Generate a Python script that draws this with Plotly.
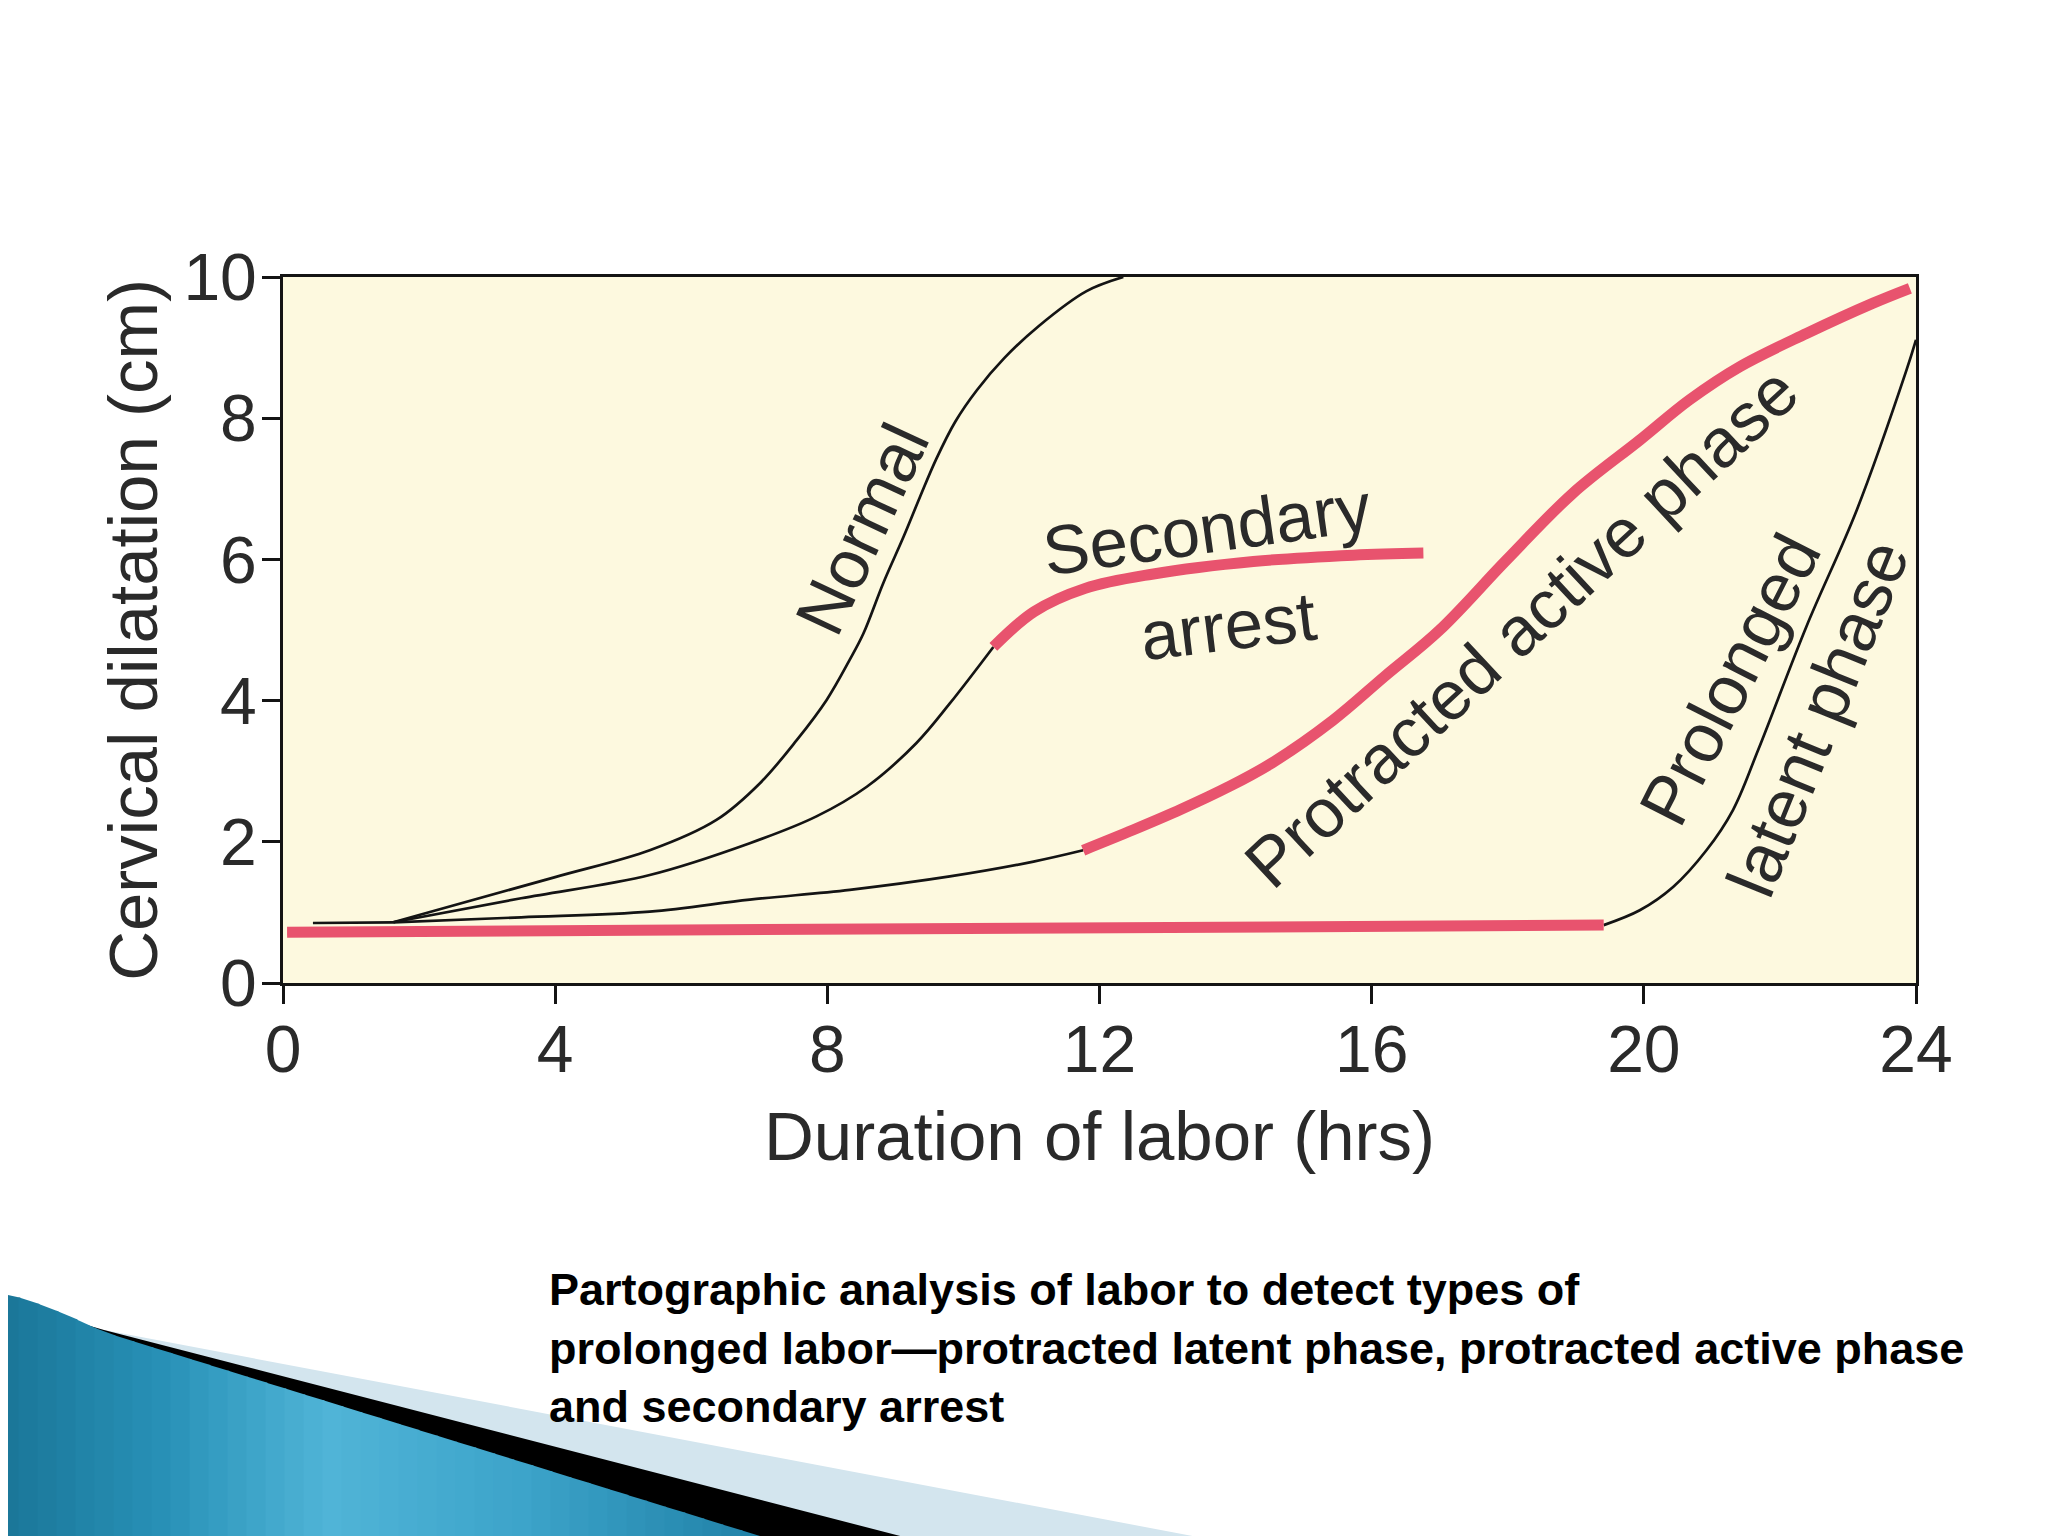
import plotly.graph_objects as go

# ---------------- data (hours, cm) ----------------
start_x = [0.44, 1.62]
start_y = [0.85, 0.86]

normal_x = [1.62, 4.0, 5.39, 6.37, 7.01, 7.55, 7.99, 8.33, 8.53, 8.82, 9.12, 9.36, 9.6, 9.88, 10.2, 10.6, 11.1, 11.81, 12.35]
normal_y = [0.86, 1.5, 1.88, 2.31, 2.83, 3.44, 4.01, 4.58, 4.95, 5.66, 6.32, 6.88, 7.42, 7.95, 8.4, 8.85, 9.3, 9.8, 10.0]

arrest_black_x = [1.62, 3.5, 5.39, 6.86, 7.84, 8.58, 9.31, 9.80, 10.44]
arrest_black_y = [0.86, 1.2, 1.53, 1.98, 2.36, 2.78, 3.40, 3.96, 4.76]
arrest_red_x = [10.44, 11.04, 11.79, 12.77, 14.26, 15.73, 16.76]
arrest_red_y = [4.76, 5.26, 5.59, 5.79, 5.97, 6.06, 6.09]

active_black_x = [1.62, 3.5, 5.39, 6.86, 8.33, 9.80, 11.03, 11.76]
active_black_y = [0.86, 0.93, 1.01, 1.18, 1.32, 1.51, 1.72, 1.88]
active_red_x = [11.76, 12.5, 13.2, 13.9, 14.54, 15.43, 16.2, 17.0, 17.98, 18.96, 19.94, 20.67, 21.41, 22.39, 23.37, 23.91]
active_red_y = [1.88, 2.17, 2.46, 2.78, 3.12, 3.72, 4.35, 5.0, 5.99, 6.94, 7.69, 8.26, 8.73, 9.20, 9.63, 9.84]

latent_red_x = [0.06, 19.41]
latent_red_y = [0.72, 0.82]
latent_black_x = [19.41, 19.94, 20.43, 20.92, 21.31, 21.68, 22.39, 23.13, 23.86, 24.0]
latent_black_y = [0.82, 1.03, 1.36, 1.88, 2.45, 3.3, 5.05, 6.70, 8.68, 9.11]

x_ticks = [0, 4, 8, 12, 16, 20, 24]
y_ticks = [0, 2, 4, 6, 8, 10]

labels = ["Normal", "Secondary", "arrest", "Protracted active phase", "Prolonged", "latent phase"]
label_x = [8.51, 13.58, 13.89, 18.2, 21.27, 22.56]
label_y = [6.43, 6.42, 5.05, 5.04, 4.3, 3.75]
label_angle = [-65, -8, -7, -43, -63, -68]

caption = ("Partographic analysis of labor to detect types of<br>"
           "prolonged labor\u2014protracted latent phase, protracted active phase<br>"
           "and secondary arrest")

# ---------------- styles ----------------
RED = "#E8536E"
BLACK = "#141414"
BG = "#FDF9DF"
TXT = "#2a2a2a"
FONT = "Liberation Sans, Arial, Helvetica, sans-serif"

W, H = 2048, 1536
OFF = 8  # page body margin
L, R, T, B = 275, 140, 269, 561
PW, PH = W - L - R, H - T - B


def px2paper(sx, sy):
    fx, fy = sx - OFF, sy - OFF
    return (fx - L) / PW, (H - B - fy) / PH


fig = go.Figure()


def add_line(x, y, color, width):
    fig.add_trace(go.Scatter(x=x, y=y, mode="lines",
                             line=dict(color=color, width=width, shape="spline", smoothing=1.0),
                             hoverinfo="skip", showlegend=False))


add_line(start_x, start_y, BLACK, 2.7)
add_line(normal_x, normal_y, BLACK, 2.7)
add_line(arrest_black_x, arrest_black_y, BLACK, 2.7)
add_line(active_black_x, active_black_y, BLACK, 2.7)
add_line(latent_black_x, latent_black_y, BLACK, 2.7)
add_line(arrest_red_x, arrest_red_y, RED, 11)
add_line(active_red_x, active_red_y, RED, 11)
add_line(latent_red_x, latent_red_y, RED, 11)

for t, x, y, a in zip(labels, label_x, label_y, label_angle):
    fig.add_annotation(x=x, y=y, text=t, textangle=a, showarrow=False,
                       xanchor="center", yanchor="middle",
                       font=dict(family=FONT, size=69, color=TXT))

# caption
cx, cy = px2paper(547, 1262)
fig.add_annotation(xref="paper", yref="paper", x=cx, y=cy, text=caption,
                   showarrow=False, xanchor="left", yanchor="top", align="left",
                   font=dict(family="Liberation Sans, Arial", size=45,
                             color="#000000", weight="bold"))


# decorative corner shapes (slide background), screen pixel coords
def poly(points, color, opacity=1.0):
    pts = [px2paper(x, y) for x, y in points]
    path = "M " + " L ".join(f"{x:.5f},{y:.5f}" for x, y in pts) + " Z"
    fig.add_shape(type="path", xref="paper", yref="paper", path=path,
                  fillcolor=color, line=dict(width=0), layer="below", opacity=opacity)


poly([(0, 1300), (104, 1330), (1240, 1545), (0, 1545)], "#D3E5EE")
poly([(0, 1300), (104, 1330), (935, 1545), (0, 1545)], "#000000")


def teal_top(x):
    if x <= 104:
        return 1293 + (1332 - 1293) * (x / 104) ** 1.3
    return 1332 + (1536 - 1332) * (x - 104) / (760 - 104)


def lerp(c1, c2, t):
    a = [int(c1[i:i + 2], 16) for i in (1, 3, 5)]
    b = [int(c2[i:i + 2], 16) for i in (1, 3, 5)]
    return "#" + "".join(f"{round(a[k] + (b[k] - a[k]) * t):02x}" for k in range(3))


stops = [(0, "#1A7597"), (160, "#2790B6"), (330, "#50B4D7"), (520, "#3DA4CA"), (770, "#1F80A6")]
n = 40
XEND = 760
for i in range(n):
    x0 = XEND * i / n
    x1 = XEND * (i + 1) / n + 1.5
    xm = (x0 + x1) / 2
    col = stops[-1][1]
    for j in range(len(stops) - 1):
        if stops[j][0] <= xm <= stops[j + 1][0]:
            t = (xm - stops[j][0]) / (stops[j + 1][0] - stops[j][0])
            col = lerp(stops[j][1], stops[j + 1][1], t)
            break
    x1c = min(x1, XEND)
    pts = [(x0 - 0.5, teal_top(x0)), (x1c, teal_top(x1c))]
    if x1 > XEND:
        pts.append((x1, 1545))
    pts += [(x1, 1545), (x0 - 0.5, 1545)]
    poly(pts, col)

axis_common = dict(showgrid=False, zeroline=False, showline=True, mirror=True,
                   linecolor=BLACK, linewidth=3, ticks="outside", ticklen=18,
                   tickwidth=2.5, tickcolor=BLACK,
                   tickfont=dict(family=FONT, size=66, color=TXT))

fig.update_layout(
    width=W, height=H,
    margin=dict(l=L, r=R, t=T, b=B),
    paper_bgcolor="white",
    plot_bgcolor=BG,
    xaxis=dict(range=[0, 24], tickvals=x_ticks, ticklabelstandoff=-11, **axis_common,
               title=dict(text="Duration of labor (hrs)", standoff=27,
                          font=dict(family=FONT, size=69, color=TXT))),
    yaxis=dict(range=[0, 10], tickvals=y_ticks, ticklabelstandoff=-8, **axis_common,
               title=dict(text="Cervical dilatation (cm)", standoff=4,
                          font=dict(family=FONT, size=69, color=TXT))),
)

fig.write_html("out.html")
